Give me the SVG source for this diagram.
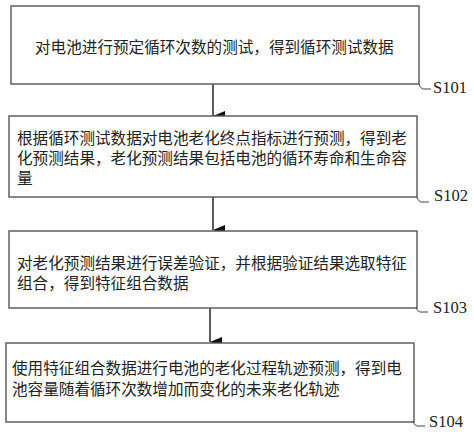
<svg xmlns="http://www.w3.org/2000/svg" width="474" height="432" viewBox="0 0 474 432">
<defs>
<style>
.box{fill:#fff;stroke:#555;stroke-width:1.4}
.t{font-family:"Noto Sans CJK SC","Noto Sans",sans-serif;font-size:15.6px;fill:#222}
.lbl{font-family:"Liberation Serif","DejaVu Serif",serif;font-size:16.5px;fill:#222}
.conn{stroke:#333;stroke-width:1.6;fill:none}
.tl{stroke:#444;stroke-width:1;fill:none}
</style>
<marker id="ah" markerWidth="10" markerHeight="12" refX="5" refY="12" orient="auto-start-reverse" markerUnits="userSpaceOnUse" viewBox="0 0 10 12">
<path d="M0,0 L10,0 L5,12 Z" fill="#111"/>
</marker>
</defs>
<rect width="474" height="432" fill="#fff"/>
<g id="connectors">
<line class="conn" x1="213" y1="84" x2="213" y2="116" marker-end="url(#ah)"/>
<line class="conn" x1="213" y1="197" x2="213" y2="230" marker-end="url(#ah)"/>
<line class="conn" x1="210" y1="308" x2="210" y2="342" marker-end="url(#ah)"/>
</g>
<g id="S101">
<rect class="box" x="11" y="6" width="408" height="78"/>
<text class="t" x="35" y="53">对电池进行预定循环次数的测试，得到循环测试数据</text>
<path class="tl" d="M419,84 q2,6 6,5 l6,0"/>
<text class="lbl" x="433" y="93">S101</text>
</g>
<g id="S102">
<rect class="box" x="9" y="116" width="408" height="81"/>
<text class="t" x="17" y="144">根据循环测试数据对电池老化终点指标进行预测，得到老</text>
<text class="t" x="17" y="164">化预测结果，老化预测结果包括电池的循环寿命和生命容</text>
<text class="t" x="17" y="184">量</text>
<path class="tl" d="M417,197 q2,6 6,5 l6,0"/>
<text class="lbl" x="434" y="201">S102</text>
</g>
<g id="S103">
<rect class="box" x="9" y="231" width="408" height="77"/>
<text class="t" x="17" y="269">对老化预测结果进行误差验证，并根据验证结果选取特征</text>
<text class="t" x="17" y="289">组合，得到特征组合数据</text>
<path class="tl" d="M416,307 q2,6 6,5 l6,0"/>
<text class="lbl" x="433" y="313">S103</text>
</g>
<g id="S104">
<rect class="box" x="6" y="343" width="408" height="79"/>
<text class="t" x="12" y="374">使用特征组合数据进行电池的老化过程轨迹预测，得到电</text>
<text class="t" x="12" y="395">池容量随着循环次数增加而变化的未来老化轨迹</text>
<path class="tl" d="M413,421 q2,6 6,5 l6,0"/>
<text class="lbl" x="429" y="427">S104</text>
</g>
</svg>
